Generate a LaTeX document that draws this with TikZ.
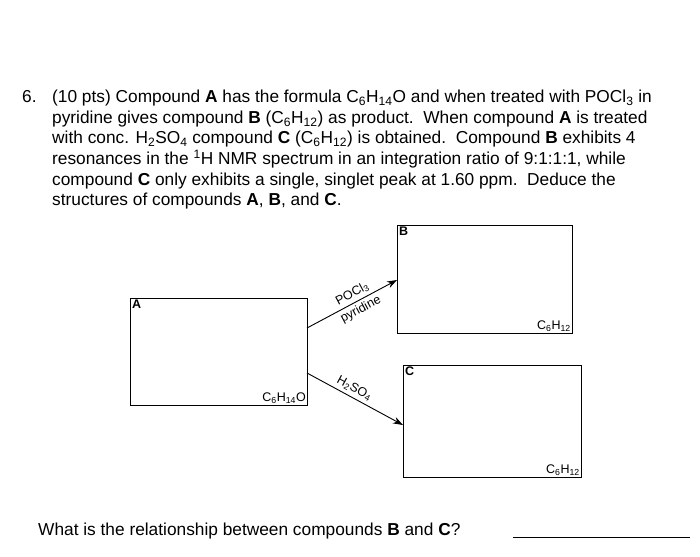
\documentclass[tikz,border=0pt]{standalone}
\usepackage{fontspec}
\setmainfont{Liberation Sans}
\usetikzlibrary{arrows.meta}
\newcommand{\sbs}[1]{\textsubscript{#1}}
\newcommand{\sps}[1]{\textsuperscript{#1}}
\begin{document}
\begin{tikzpicture}[x=1pt,y=-1pt,
  txt/.style={anchor=base west,inner sep=0,font=\fontsize{17.3}{19}\selectfont},
  box/.style={draw,line width=1pt},
  lbl/.style={inner sep=2pt,font=\fontsize{12.5}{14}\selectfont},
  arr/.style={line width=0.9pt,-{Stealth[length=10pt,width=7pt]}}]
\path[fill=white] (0,0) rectangle (700,556);
\node[txt] (n6) at (22,103) {6.};
\node[txt] (l1) at (52,103) {(10 pts) Compound \textbf{A} has the formula C\sbs{6}H\sbs{14}O and when treated with POCl\sbs{3} in};
\node[txt] (l2) at (52,123.5) {pyridine gives compound \textbf{B} (C\sbs{6}H\sbs{12}) as product.\ \ When compound \textbf{A} is treated};
\node[txt] (l3) at (52,144) {with conc. H\sbs{2}SO\sbs{4} compound \textbf{C} (C\sbs{6}H\sbs{12}) is obtained.\ \ Compound \textbf{B} exhibits 4};
\node[txt] (l4) at (52,164.5) {resonances in the \sps{1}H NMR spectrum in an integration ratio of 9:1:1:1, while};
\node[txt] (l5) at (52,185) {compound \textbf{C} only exhibits a single, singlet peak at 1.60 ppm.\ \ Deduce the};
\node[txt] (l6) at (52,205.5) {structures of compounds \textbf{A}, \textbf{B}, and \textbf{C}.};
\node[box,minimum width=177pt,minimum height=107pt,anchor=north west] (A) at (130,298) {};
\node[box,minimum width=175pt,minimum height=108pt,anchor=north west] (B) at (397,225) {};
\node[box,minimum width=178pt,minimum height=112pt,anchor=north west] (C) at (403,365) {};
\node[lbl,anchor=north west,font=\bfseries\fontsize{12.5}{14}\selectfont] (Al) at (A.north west) {A};
\node[lbl,anchor=north west,font=\bfseries\fontsize{12.5}{14}\selectfont] (Bl) at (B.north west) {B};
\node[lbl,anchor=north west,font=\bfseries\fontsize{12.5}{14}\selectfont] (Cl) at (C.north west) {C};
\node[lbl,anchor=south east] (Af) at (A.south east) {C\sbs{6}H\sbs{14}O};
\node[lbl,anchor=south east] (Bf) at (B.south east) {C\sbs{6}H\sbs{12}};
\node[lbl,anchor=south east] (Cf) at (C.south east) {C\sbs{6}H\sbs{12}};
\coordinate (a1) at (307,328);
\coordinate (b1) at (397,280);
\coordinate (a2) at (307,373);
\coordinate (c2) at (403,425);
\draw[arr] (a1) -- (b1) node[pos=0.55,sloped,above,lbl,yshift=1pt] (r1) {POCl\sbs{3}} node[pos=0.55,sloped,below,lbl,yshift=-1pt] (r2) {pyridine};
\draw[arr] (a2) -- (c2) node[pos=0.45,sloped,above,lbl,yshift=1pt] (r3) {H\sbs{2}SO\sbs{4}};
\node[txt] (q) at (38,535) {What is the relationship between compounds \textbf{B} and \textbf{C}?};
\coordinate (u1) at (513,537);
\coordinate (u2) at (690,537);
\draw[line width=0.8pt] (u1) -- (u2);
\end{tikzpicture}
\end{document}
